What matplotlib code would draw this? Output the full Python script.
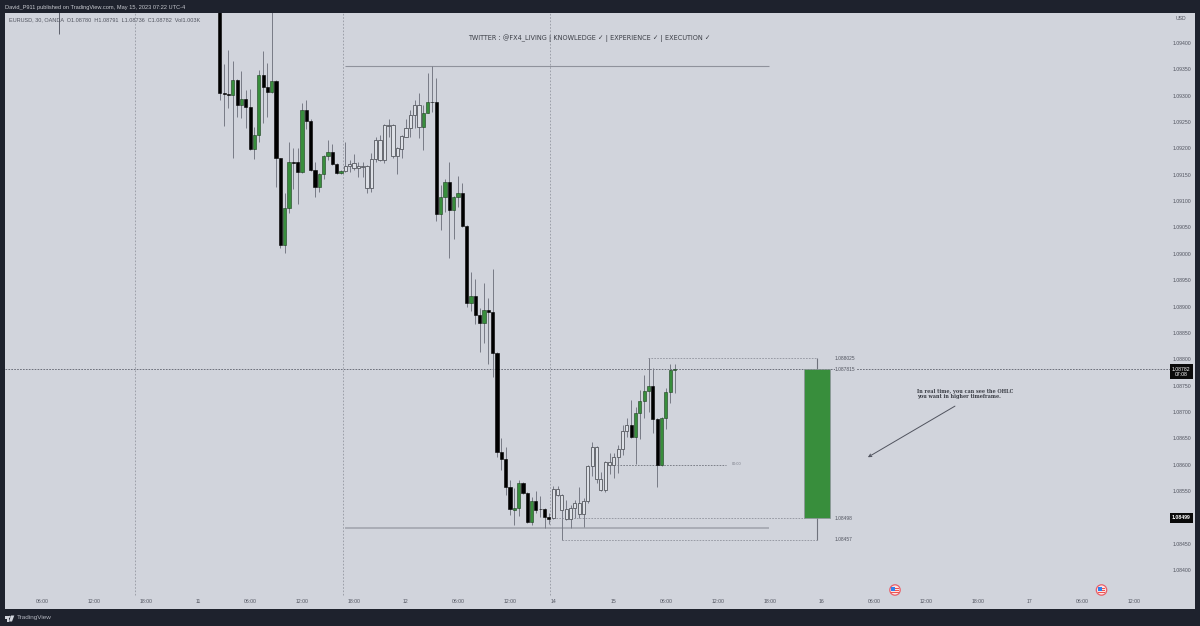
import matplotlib
matplotlib.use('Agg')
import matplotlib.pyplot as plt
from matplotlib.patches import Circle, Rectangle, Polygon
from matplotlib.transforms import IdentityTransform

# 30 min candles, one row of ten bars per line
opens = [1.09520, 1.09305, 1.09304, 1.09302, 1.09330, 1.09283, 1.09294, 1.09278, 1.09199, 1.09225,
         1.09339, 1.09316, 1.09307, 1.09328, 1.09182, 1.09017, 1.09087, 1.09175, 1.09175, 1.09155,
         1.09272, 1.09253, 1.09159, 1.09127, 1.09151, 1.09186, 1.09193, 1.09170, 1.09153, 1.09157,
         1.09167, 1.09162, 1.09162, 1.09166, 1.09124, 1.09124, 1.09179, 1.09178, 1.09178, 1.09244,
         1.09244, 1.09186, 1.09199, 1.09222, 1.09239, 1.09263, 1.09282, 1.09241, 1.09268, 1.09289,
         1.09289, 1.09076, 1.09108, 1.09137, 1.09084, 1.09108, 1.09116, 1.09053, 1.08906, 1.08920,
         1.08884, 1.08868, 1.08893, 1.08890, 1.08811, 1.08624, 1.08611, 1.08557, 1.08514, 1.08518,
         1.08565, 1.08546, 1.08491, 1.08530, 1.08516, 1.08515, 1.08500, 1.08498, 1.08553, 1.08543,
         1.08515, 1.08497, 1.08518, 1.08528, 1.08506, 1.08530, 1.08597, 1.08633, 1.08573, 1.08552,
         1.08605, 1.08599, 1.08614, 1.08630, 1.08663, 1.08675, 1.08653, 1.08698, 1.08721, 1.08739,
         1.08749, 1.08686, 1.08599, 1.08689, 1.08738, 1.08780]
highs = [1.09525, 1.09360, 1.09387, 1.09366, 1.09332, 1.09347, 1.09311, 1.09313, 1.09241, 1.09349,
         1.09385, 1.09363, 1.09500, 1.09330, 1.09182, 1.09116, 1.09212, 1.09200, 1.09200, 1.09286,
         1.09292, 1.09255, 1.09175, 1.09153, 1.09188, 1.09216, 1.09208, 1.09172, 1.09159, 1.09212,
         1.09178, 1.09189, 1.09175, 1.09175, 1.09168, 1.09191, 1.09222, 1.09225, 1.09246, 1.09255,
         1.09246, 1.09202, 1.09226, 1.09255, 1.09273, 1.09292, 1.09306, 1.09282, 1.09344, 1.09356,
         1.09334, 1.09131, 1.09142, 1.09174, 1.09110, 1.09148, 1.09135, 1.09055, 1.08966, 1.08952,
         1.08898, 1.08945, 1.08917, 1.08972, 1.08813, 1.08650, 1.08633, 1.08571, 1.08556, 1.08570,
         1.08567, 1.08548, 1.08539, 1.08549, 1.08540, 1.08517, 1.08508, 1.08559, 1.08559, 1.08545,
         1.08532, 1.08524, 1.08533, 1.08557, 1.08537, 1.08599, 1.08643, 1.08635, 1.08586, 1.08607,
         1.08622, 1.08622, 1.08637, 1.08675, 1.08688, 1.08723, 1.08710, 1.08742, 1.08770, 1.08802,
         1.08783, 1.08688, 1.08691, 1.08745, 1.08791, 1.08791]
lows = [1.09292, 1.09243, 1.09277, 1.09182, 1.09260, 1.09258, 1.09239, 1.09197, 1.09180, 1.09213,
        1.09249, 1.09260, 1.09305, 1.09127, 1.09011, 1.09002, 1.09077, 1.09123, 1.09095, 1.09153,
        1.09237, 1.09157, 1.09108, 1.09118, 1.09142, 1.09178, 1.09168, 1.09151, 1.09151, 1.09155,
        1.09156, 1.09159, 1.09146, 1.09146, 1.09115, 1.09118, 1.09174, 1.09176, 1.09173, 1.09221,
        1.09182, 1.09151, 1.09182, 1.09221, 1.09222, 1.09239, 1.09220, 1.09197, 1.09267, 1.09270,
        1.09063, 1.09046, 1.09080, 1.08992, 1.09028, 1.09089, 1.09051, 1.08900, 1.08892, 1.08867,
        1.08814, 1.08831, 1.08791, 1.08766, 1.08615, 1.08590, 1.08542, 1.08504, 1.08485, 1.08502,
        1.08544, 1.08490, 1.08485, 1.08508, 1.08501, 1.08480, 1.08487, 1.08496, 1.08541, 1.08457,
        1.08495, 1.08480, 1.08499, 1.08499, 1.08482, 1.08528, 1.08578, 1.08565, 1.08550, 1.08548,
        1.08582, 1.08575, 1.08584, 1.08618, 1.08653, 1.08651, 1.08602, 1.08648, 1.08688, 1.08700,
        1.08660, 1.08557, 1.08597, 1.08667, 1.08717, 1.08736]
closes = [1.09306, 1.09303, 1.09302, 1.09330, 1.09283, 1.09294, 1.09278, 1.09199, 1.09225, 1.09339,
          1.09316, 1.09307, 1.09328, 1.09182, 1.09017, 1.09087, 1.09174, 1.09173, 1.09155, 1.09272,
          1.09253, 1.09159, 1.09127, 1.09151, 1.09186, 1.09193, 1.09170, 1.09153, 1.09157, 1.09167,
          1.09171, 1.09172, 1.09166, 1.09165, 1.09166, 1.09179, 1.09216, 1.09216, 1.09244, 1.09243,
          1.09186, 1.09200, 1.09224, 1.09239, 1.09263, 1.09282, 1.09241, 1.09268, 1.09289, 1.09288,
          1.09076, 1.09108, 1.09137, 1.09084, 1.09108, 1.09116, 1.09053, 1.08906, 1.08920, 1.08884,
          1.08868, 1.08893, 1.08889, 1.08811, 1.08624, 1.08611, 1.08557, 1.08515, 1.08518, 1.08565,
          1.08546, 1.08492, 1.08530, 1.08514, 1.08515, 1.08501, 1.08497, 1.08553, 1.08543, 1.08513,
          1.08497, 1.08518, 1.08528, 1.08506, 1.08530, 1.08597, 1.08633, 1.08573, 1.08552, 1.08605,
          1.08599, 1.08614, 1.08630, 1.08663, 1.08675, 1.08653, 1.08698, 1.08721, 1.08739, 1.08749,
          1.08686, 1.08599, 1.08689, 1.08738, 1.08780, 1.08782]
stray_wick = [1.09417, 1.09500]

# the drawn higher timeframe candle
htf_open, htf_high, htf_low, htf_close = 1.08498, 1.08802, 1.08457, 1.08781

y_ticks = [1.09400, 1.09350, 1.09300, 1.09250, 1.09200, 1.09150, 1.09100, 1.09050, 1.09000, 1.08950,
           1.08900, 1.08850, 1.08800, 1.08750, 1.08700, 1.08650, 1.08600, 1.08550, 1.08450, 1.08400]
x_ticks = [-41, -29, -17, -5, 7, 19, 31, 43, 55, 67, 77, 91, 103, 115, 127, 139, 151, 163, 175, 187, 199, 211]
x_labels = ['06:00', '12:00', '18:00', '11', '06:00', '12:00', '18:00', '12', '06:00', '12:00', '14', '15',
            '06:00', '12:00', '18:00', '16', '06:00', '12:00', '18:00', '17', '06:00', '12:00']
session_lines = [-19.5, 28.4, 76.3]
last_price = 1.08782
range_low_box = 1.08499
range_high = 1.09356
range_low = 1.08480
level_mid = 1.08600

BG = '#d1d4dc'
FRAME = '#1e222d'
GREEN = '#388e3c'
GREY = '#787b86'
TXT = '#50535e'

plt.rcParams['font.family'] = ['Liberation Sans', 'DejaVu Sans']

fig = plt.figure(figsize=(12, 6.26), dpi=100, facecolor=FRAME)
ax = fig.add_axes([5 / 1200, 17 / 626, 1190 / 1200, 596 / 626], facecolor=BG)
ax.set_xlim(-49.55, 225.1)
ax.set_ylim(1.08326, 1.09457)
for s in ax.spines.values():
    s.set_visible(False)

ax.yaxis.tick_right()
ax.set_yticks(y_ticks)
ax.set_yticklabels(['%.5f' % v for v in y_ticks])
ax.tick_params(axis='y', length=0, pad=-16, labelsize=3.7, labelcolor=TXT)
ax.set_xticks(x_ticks)
ax.set_xticklabels(x_labels)
ax.tick_params(axis='x', length=0, pad=-7, labelsize=3.7, labelcolor=TXT)

# session breaks stop a little above the time scale
ax.vlines(session_lines, 1.08353, 1.09457, color='#9598a1', lw=0.6, linestyles=(0, (2, 2)))
ax.axhline(last_price, xmax=0.983, color='#5d606b', lw=0.6, linestyle=(0, (2, 1.5)))

# drawn levels
ax.hlines(range_high, 28.9, 126.8, color='#8f929c', lw=0.8)
ax.hlines(range_low, 28.9, 126.8, color='#a3a6af', lw=1.2)
ax.hlines(htf_high, 98.8, 137.8, color='#8f929c', lw=0.6, linestyles=(0, (2, 1.5)))
ax.hlines(htf_low, 79.0, 137.8, color='#8f929c', lw=0.6, linestyles=(0, (2, 1.5)))
ax.hlines(htf_open, 77.0, 135, color='#8f929c', lw=0.6, linestyles=(0, (2, 1.5)))
ax.hlines(level_mid, 91.6, 116.8, color='#6f727c', lw=0.6, linestyles=(0, (2, 1.5)))
ax.text(118.2, level_mid + 0.00002, '00:00', fontsize=2.8, color=GREY, va='center')

# candles
hollow = set(range(29, 47)) | set(range(77, 95))
bars = range(len(opens))
ax.vlines(bars, lows, highs, color=GREY, lw=0.7, zorder=3)
ax.vlines(-37, stray_wick[0], stray_wick[1], color='#5d606b', lw=0.7, zorder=3)
for i in bars:
    o, c = opens[i], closes[i]
    if i in hollow:
        face, edge, lw = '#dde0e6', '#55585f', 0.6
    elif c >= o:
        face, edge, lw = GREEN, '#1c3d20', 0.4
    else:
        face, edge, lw = 'black', 'black', 0.4
    ax.bar(i, abs(c - o), bottom=min(o, c), width=0.7, color=face, edgecolor=edge, linewidth=lw, zorder=4)

ax.vlines(137.8, htf_low, htf_high, color='#6f727c', lw=0.8, zorder=3)
ax.bar(137.8, htf_close - htf_open, bottom=htf_open, width=5.96, color=GREEN, edgecolor='#8f929c',
       linewidth=0.5, zorder=4)

for val, lab in [(1.08802, '1.088025'), (htf_close, '1.087815'), (htf_open, '1.08498'), (htf_low, '1.08457')]:
    ax.text(142.0, val, lab, fontsize=3.5, color=TXT, va='center', zorder=5,
            bbox=dict(fc=BG, ec='none', pad=0.3))

ax.annotate('', xy=(149.6, 1.08614), xytext=(169.7, 1.08711),
            arrowprops=dict(arrowstyle='->', color='#50535e', lw=0.7, mutation_scale=5, shrinkA=0, shrinkB=0))
ax.text(160.9, 1.08734, 'In real time, you can see the OHLC\nyou want in higher timeframe.', fontsize=3.5,
        family='DejaVu Serif', weight='bold', color='#3b3e46', va='center', linespacing=0.95)

ax.text(0.3890, 0.9585, 'TWITTER : @FX4_LIVING | KNOWLEDGE ✓ | EXPERIENCE ✓ | EXECUTION ✓', transform=ax.transAxes,
        fontsize=4.7, family='DejaVu Sans', color='#3b3e46', ha='left', va='center')
ax.text(0.0033, 0.9885, 'EURUSD, 30, OANDA  O1.08780  H1.08791  L1.08736  C1.08782  Vol1.003K', transform=ax.transAxes,
        fontsize=3.95, color=TXT, ha='left', va='center')
ax.text(0.9885, 0.9900, 'USD', transform=ax.transAxes, fontsize=3.7, color=TXT, ha='center', va='center')

# price scale tags
tag_x = 0.9885
ax.text(tag_x, last_price - 0.00006, '1.08782\n07:08', transform=ax.get_yaxis_transform(), fontsize=3.7,
        color='white', ha='center', va='center', linespacing=1.05, zorder=6,
        bbox=dict(boxstyle='square,pad=0.45', fc='#0b0b0b', ec='none'))
ax.text(tag_x, range_low_box, '1.08499', transform=ax.get_yaxis_transform(), fontsize=3.7, weight='bold',
        color='white', ha='center', va='center', zorder=6,
        bbox=dict(boxstyle='square,pad=0.45', fc='#0b0b0b', ec='none'))


def px(x, y):
    return x, 626 - y


# economic event flags
for cx, cy in [(895, 590), (1101.5, 590)]:
    tr = IdentityTransform()
    fig.add_artist(Circle(px(cx, cy), 5.2, fc='#fbe3e3', ec='#e8606a', lw=0.9, transform=tr))
    for dy in (-1.5, 0.5, 2.5):
        fig.add_artist(Rectangle(px(cx - 3.7, cy + dy + 0.5), 7.4, 1, fc='#ef5350', ec='none', transform=tr))
    fig.add_artist(Rectangle(px(cx - 3.6, cy + 0.5), 3.8, 3.8, fc='#2f80ed', ec='none', transform=tr))

# header and footer on the dark frame
fig.text(5 / 1200, 1 - 7.3 / 626, 'David_P911 published on TradingView.com, May 15, 2023 07:22 UTC-4', fontsize=4.1,
         color='#c8cad0', ha='left', va='center')
fig.text(16.5 / 1200, 1 - 618 / 626, 'TradingView', fontsize=4.6, color='#b2b5be', ha='left', va='center')
tr = IdentityTransform()
fig.add_artist(Rectangle(px(5, 619), 3.5, 3.5, fc='#d1d4dc', ec='none', transform=tr))
fig.add_artist(Rectangle(px(6.5, 621.5), 2, 6, fc='#d1d4dc', ec='none', transform=tr))
fig.add_artist(Circle(px(9.6, 616.8), 1, fc='#d1d4dc', ec='none', transform=tr))
fig.add_artist(Polygon([px(11, 615.5), px(14.3, 615.5), px(12, 621.5), px(9, 621.5)], fc='#d1d4dc', ec='none',
                       transform=tr))

fig.savefig('out.png', dpi=100, facecolor=FRAME)
